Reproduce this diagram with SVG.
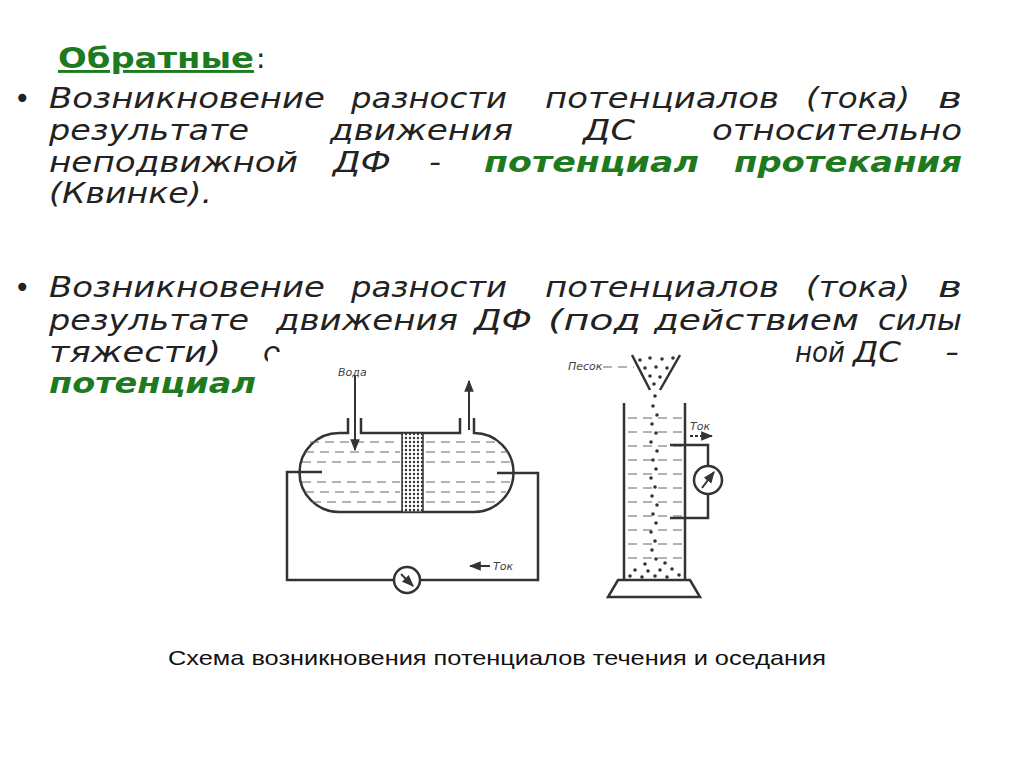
<svg xmlns="http://www.w3.org/2000/svg" width="1024" height="768" viewBox="0 0 1024 768">
<style>
.b{font-family:"DejaVu Sans",sans-serif;font-style:italic;font-size:28px;fill:#222}
.g{fill:#1e7a1e;font-weight:bold}
.s{stroke:#333;stroke-width:2.5;fill:none}
.w{stroke:#333;stroke-width:2;fill:none}
.d{stroke:#666;stroke-width:1;stroke-dasharray:9 6}
.lab{font-family:"DejaVu Sans",sans-serif;font-style:italic;font-size:11px;fill:#444}
.sd{fill:#333}
</style>
<defs>
<marker id="ar" viewBox="0 0 10 10" refX="9" refY="5" markerWidth="6" markerHeight="6" orient="auto"><path d="M0,1 L10,5 L0,9 z" fill="#333"/></marker>
<pattern id="hx" width="4" height="4" patternUnits="userSpaceOnUse"><rect width="4" height="4" fill="#fff"/><circle cx="2" cy="2" r="1.2" fill="#333"/></pattern>
</defs>
<rect width="1024" height="768" fill="#fff"/>
<g id="text">
<text x="58" y="68" class="b g" style="font-style:normal;text-decoration:underline;font-size:29px" textLength="196" lengthAdjust="spacingAndGlyphs">Обратные</text>
<text x="256" y="68" class="b" style="font-style:normal">:</text>
<text x="14" y="108" class="b" style="font-style:normal">•</text>
<text x="49" y="108" class="b" textLength="276" lengthAdjust="spacingAndGlyphs">Возникновение</text>
<text x="351" y="108" class="b" textLength="156" lengthAdjust="spacingAndGlyphs">разности</text>
<text x="545" y="108" class="b" textLength="234" lengthAdjust="spacingAndGlyphs">потенциалов</text>
<text x="806" y="108" class="b" textLength="104" lengthAdjust="spacingAndGlyphs">(тока)</text>
<text x="938" y="108" class="b" textLength="24" lengthAdjust="spacingAndGlyphs">в</text>
<text x="49" y="140" class="b" textLength="200" lengthAdjust="spacingAndGlyphs">результате</text>
<text x="330" y="140" class="b" textLength="183" lengthAdjust="spacingAndGlyphs">движения</text>
<text x="583" y="140" class="b" textLength="52" lengthAdjust="spacingAndGlyphs">ДС</text>
<text x="712" y="140" class="b" textLength="250" lengthAdjust="spacingAndGlyphs">относительно</text>
<text x="49" y="172" class="b" textLength="249" lengthAdjust="spacingAndGlyphs">неподвижной</text>
<text x="333" y="172" class="b" textLength="58" lengthAdjust="spacingAndGlyphs">ДФ</text>
<text x="429" y="172" class="b" textLength="12" lengthAdjust="spacingAndGlyphs">-</text>
<text x="484" y="172" class="b g" textLength="215" lengthAdjust="spacingAndGlyphs">потенциал</text>
<text x="734" y="172" class="b g" textLength="228" lengthAdjust="spacingAndGlyphs">протекания</text>
<text x="49" y="203" class="b" textLength="163" lengthAdjust="spacingAndGlyphs">(Квинке).</text>
<text x="14" y="297" class="b" style="font-style:normal">•</text>
<text x="49" y="297" class="b" textLength="276" lengthAdjust="spacingAndGlyphs">Возникновение</text>
<text x="351" y="297" class="b" textLength="156" lengthAdjust="spacingAndGlyphs">разности</text>
<text x="545" y="297" class="b" textLength="234" lengthAdjust="spacingAndGlyphs">потенциалов</text>
<text x="806" y="297" class="b" textLength="104" lengthAdjust="spacingAndGlyphs">(тока)</text>
<text x="938" y="297" class="b" textLength="24" lengthAdjust="spacingAndGlyphs">в</text>
<text x="49" y="330" class="b" textLength="200" lengthAdjust="spacingAndGlyphs">результате</text>
<text x="276" y="330" class="b" textLength="182" lengthAdjust="spacingAndGlyphs">движения</text>
<text x="474" y="330" class="b" textLength="58" lengthAdjust="spacingAndGlyphs">ДФ</text>
<text x="548" y="330" class="b" textLength="93" lengthAdjust="spacingAndGlyphs">(под</text>
<text x="654" y="330" class="b" textLength="205" lengthAdjust="spacingAndGlyphs">действием</text>
<text x="878" y="330" class="b" textLength="84" lengthAdjust="spacingAndGlyphs">силы</text>
<text x="49" y="362" class="b" textLength="172" lengthAdjust="spacingAndGlyphs">тяжести)</text>
<text x="263" y="362" class="b" textLength="18" lengthAdjust="spacingAndGlyphs">о</text>
<text x="795" y="362" class="b" textLength="50" lengthAdjust="spacingAndGlyphs">ной</text>
<text x="853" y="362" class="b" textLength="48" lengthAdjust="spacingAndGlyphs">ДС</text>
<text x="945" y="362" class="b" textLength="14" lengthAdjust="spacingAndGlyphs">-</text>
<text x="49" y="393" class="b g" textLength="207" lengthAdjust="spacingAndGlyphs">потенциал</text>
</g>
<rect x="268" y="352" width="487" height="258" fill="#fff"/>
<g id="flow">
<path class="s" d="M348,418 V433 H339 A39,39 0 0 0 339,512 H474 A39,39 0 0 0 474,433 V418 M361,418 V433 H460 V418"/>
<rect x="402" y="433" width="21" height="79" fill="url(#hx)" stroke="#333" stroke-width="1.5"/>
<g class="d">
<line x1="310" y1="442" x2="400" y2="442"/><line x1="305" y1="452" x2="400" y2="452"/><line x1="302" y1="462" x2="400" y2="462"/><line x1="302" y1="482" x2="400" y2="482"/><line x1="305" y1="492" x2="400" y2="492"/><line x1="312" y1="502" x2="400" y2="502"/>
<line x1="426" y1="442" x2="500" y2="442"/><line x1="426" y1="452" x2="508" y2="452"/><line x1="426" y1="462" x2="510" y2="462"/><line x1="426" y1="482" x2="510" y2="482"/><line x1="426" y1="492" x2="506" y2="492"/><line x1="426" y1="502" x2="500" y2="502"/>
</g>
<line x1="355" y1="375" x2="355" y2="450" class="w" stroke-width="1.2" marker-end="url(#ar)"/>
<line x1="469" y1="430" x2="469" y2="381" class="w" stroke-width="1.2" marker-end="url(#ar)"/>
<text x="338" y="376" class="lab">Вода</text>
<path class="s" d="M322,472 H287 V580 H394 M420,580 H538 V473 H497"/>
<circle cx="407" cy="580" r="13" class="s" fill="#fff"/>
<line x1="401" y1="574" x2="413" y2="586" class="w" marker-end="url(#ar)"/>
<line x1="490" y1="566" x2="470" y2="566" class="w" stroke-width="1.2" marker-end="url(#ar)"/>
<text x="493" y="570" class="lab">Ток</text>
</g>
<g id="sediment">
<path class="s" d="M624,403 V580 M685,403 V580 M618,580 H690 L700,597 H608 Z"/>
<path class="s" d="M632,355 L650,390 M680,355 L660,390"/>
<line x1="603" y1="367" x2="634" y2="367" class="d" stroke-dasharray="3 2"/>
<text x="568" y="370" class="lab">Песок</text>
<g class="d">
<line x1="628" y1="418" x2="682" y2="418"/><line x1="628" y1="432" x2="682" y2="432"/><line x1="628" y1="446" x2="682" y2="446"/><line x1="628" y1="460" x2="682" y2="460"/><line x1="628" y1="474" x2="682" y2="474"/><line x1="628" y1="488" x2="682" y2="488"/><line x1="628" y1="502" x2="682" y2="502"/><line x1="628" y1="516" x2="682" y2="516"/><line x1="628" y1="530" x2="682" y2="530"/><line x1="628" y1="544" x2="682" y2="544"/><line x1="628" y1="558" x2="682" y2="558"/>
</g>
<g class="sd">
<circle cx="640" cy="360" r="1.8"/><circle cx="650" cy="358" r="1.8"/><circle cx="662" cy="359" r="1.8"/><circle cx="673" cy="358" r="1.8"/><circle cx="645" cy="368" r="1.8"/><circle cx="656" cy="367" r="1.8"/><circle cx="667" cy="368" r="1.8"/><circle cx="650" cy="376" r="1.8"/><circle cx="660" cy="377" r="1.8"/><circle cx="654" cy="384" r="1.8"/>
<circle cx="655" cy="396" r="1.8"/><circle cx="653" cy="406" r="1.8"/><circle cx="657" cy="415" r="1.8"/><circle cx="652" cy="424" r="1.8"/><circle cx="656" cy="433" r="1.8"/><circle cx="651" cy="442" r="1.8"/><circle cx="657" cy="451" r="1.8"/><circle cx="653" cy="460" r="1.8"/><circle cx="656" cy="469" r="1.8"/><circle cx="651" cy="478" r="1.8"/><circle cx="655" cy="487" r="1.8"/><circle cx="652" cy="496" r="1.8"/><circle cx="657" cy="505" r="1.8"/><circle cx="653" cy="514" r="1.8"/><circle cx="656" cy="523" r="1.8"/><circle cx="651" cy="532" r="1.8"/><circle cx="655" cy="541" r="1.8"/><circle cx="652" cy="550" r="1.8"/><circle cx="656" cy="559" r="1.8"/>
<circle cx="645" cy="564" r="1.8"/><circle cx="665" cy="563" r="1.8"/><circle cx="635" cy="570" r="1.8"/><circle cx="648" cy="571" r="1.8"/><circle cx="660" cy="570" r="1.8"/><circle cx="672" cy="569" r="1.8"/><circle cx="630" cy="576" r="1.8"/><circle cx="642" cy="577" r="1.8"/><circle cx="655" cy="576" r="1.8"/><circle cx="667" cy="577" r="1.8"/><circle cx="679" cy="575" r="1.8"/>
</g>
<path class="s" d="M670,445 H708 V466 M708,494 V518 H670"/>
<circle cx="708" cy="480" r="14" class="s" fill="#fff"/>
<line x1="702" y1="488" x2="714" y2="472" class="w" marker-end="url(#ar)"/>
<line x1="690" y1="436" x2="712" y2="436" class="w" stroke-width="1.2" stroke-dasharray="3 2" marker-end="url(#ar)"/>
<text x="690" y="430" class="lab">Ток</text>
</g>
<text x="168" y="665" textLength="658" lengthAdjust="spacingAndGlyphs" style="font-family:'Liberation Sans',sans-serif;font-size:21px;fill:#111">Схема возникновения потенциалов течения и оседания</text>
</svg>
